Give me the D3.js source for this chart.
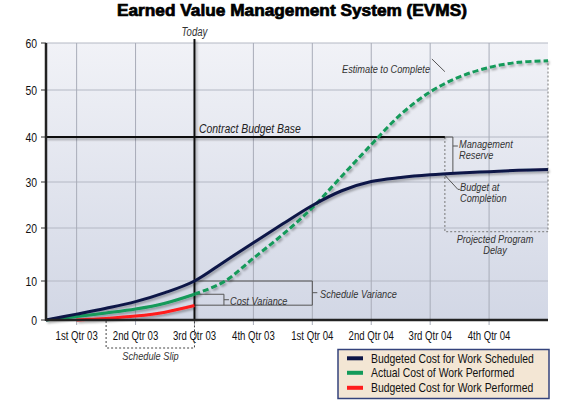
<!DOCTYPE html>
<html><head><meta charset="utf-8">
<script src="https://cdn.jsdelivr.net/npm/d3@7/dist/d3.min.js"></script>
<style>
html,body{margin:0;padding:0;background:#fff;}
svg{display:block;}
text{font-family:"Liberation Sans",Arial,sans-serif;}
</style></head>
<body>
<svg id="c" width="577" height="400"></svg>
<script>
// ---- data ----
const quarterLabels = ["1st Qtr 03","2nd Qtr 03","3rd Qtr 03","4th Qtr 03","1st Qtr 04","2nd Qtr 04","3rd Qtr 04","4th Qtr 04"];
const quarterPos = [1,2,3,4,5,6,7,8];
const yTicks = [0,10,20,30,40,50,60];
const tBCWS = [0.48,1,1.5,2,2.5,3,3.5,4,4.5,5,5.5,6,6.5,7,7.5,8,8.5,9];
const bcws  = [0,1.5,3.0,4.7,7.0,10,13.6,17.2,20.9,24.9,28.1,30.1,31.0,31.6,32.0,32.3,32.6,32.8];
const tACWP = [0.48,1,1.5,2,2.5,3];
const acwp  = [0,0.9,1.8,2.8,4.3,6.6];
const tETC  = [3,3.5,4,4.5,5,5.5,6,6.5,7,7.5,8,8.5,9];
const etc   = [6.6,9.8,14.3,18.8,24.4,31.3,38.3,44.8,49.6,52.8,54.8,55.9,56.2];
const tBCWP = [1,1.5,2,2.5,3];
const bcwp  = [0,0.4,1.0,2.0,3.7];
const seriesNames = ["Budgeted Cost for Work Scheduled","Actual Cost of Work Performed","Budgeted Cost for Work Performed"];
const seriesColors = ["#0c1547","#139a5a","#ff1c1c"];
const todayT = 3, contractBudgetBase = 40, cbbEndT = 7.25, slipStartT = 1.5, schedVarEndT = 5, costVarEndT = 3.5;

// ---- layout ----
const svg = d3.select("#c");
const x = d3.scaleLinear().domain([0.48, 9]).range([46, 548]);
const y = d3.scaleLinear().domain(yTicks).range([320,281,228,182,137,90,43]);
const NARROW = 0.8;
function narrow(sel){ sel.each(function(){ const w=this.getComputedTextLength(); this.setAttribute("textLength",(w*NARROW).toFixed(1)); this.setAttribute("lengthAdjust","spacingAndGlyphs"); }); return sel; }

const defs = svg.append("defs");
const grad = defs.append("linearGradient").attr("id","bg").attr("x1",0).attr("y1",0).attr("x2",0).attr("y2",1);
grad.append("stop").attr("offset","0%").attr("stop-color","#f1f2f7");
grad.append("stop").attr("offset","100%").attr("stop-color","#d2d7e5");
const f = defs.append("filter").attr("id","sh").attr("filterUnits","userSpaceOnUse").attr("x",0).attr("y",0).attr("width",577).attr("height",400);
f.append("feDropShadow").attr("dx",1.5).attr("dy",2).attr("stdDeviation",1.3).attr("flood-color","#000").attr("flood-opacity",0.3);

// plot background
svg.append("rect").attr("x",x(0.48)).attr("y",y(60)).attr("width",x(9)-x(0.48)).attr("height",y(0)-y(60)).attr("fill","url(#bg)");

// grid
svg.append("g").selectAll("line").data(yTicks.filter(d=>d>0)).join("line")
  .attr("x1",x(0.48)).attr("x2",x(9)).attr("y1",d=>y(d)).attr("y2",d=>y(d))
  .attr("stroke","#b4b8c4").attr("stroke-width",1);
svg.append("g").selectAll("line").data(quarterPos).join("line")
  .attr("x1",d=>x(d)).attr("x2",d=>x(d)).attr("y1",y(60)).attr("y2",y(0)+5)
  .attr("stroke","#a8acb8").attr("stroke-width",1);

// title
svg.append("text").attr("x",292).attr("y",16).attr("text-anchor","middle")
  .attr("font-weight","bold").attr("font-size",16)
  .attr("stroke","#000").attr("stroke-width",0.7)
  .attr("textLength",350).attr("lengthAdjust","spacingAndGlyphs")
  .text("Earned Value Management System (EVMS)");

// y labels
narrow(svg.append("g").selectAll("text").data(yTicks).join("text")
  .attr("x",37).attr("y",d=>y(d)).attr("dy","0.36em").attr("text-anchor","end")
  .attr("font-size",13).attr("fill","#111").text(d=>d));
svg.append("g").selectAll("line").data(yTicks).join("line")
  .attr("x1",41).attr("x2",46).attr("y1",d=>y(d)).attr("y2",d=>y(d)).attr("stroke","#333");
// x labels
narrow(svg.append("g").selectAll("text").data(quarterPos).join("text")
  .attr("x",d=>x(d)).attr("y",340).attr("text-anchor","middle")
  .attr("font-size",12).attr("fill","#111").text((d,i)=>quarterLabels[i]));

// annotation helpers
const ann = svg.append("g").attr("fill","none").attr("stroke","#555").attr("stroke-width",1);
function label(tx,ty,txt,anchor,size){
  narrow(svg.append("text").attr("x",tx).attr("y",ty).attr("text-anchor",anchor||"start")
    .attr("font-size",size||11.5).attr("font-style","italic").attr("fill","#333").text(txt));
}
// Projected program delay box (dotted)
ann.append("path").attr("d",`M${x(cbbEndT)},${y(40)}V${y(19.3)}H${x(9)}V${y(56.2)}`)
  .attr("stroke","#777").attr("stroke-dasharray","2,2");
label(495,243,"Projected Program","middle");
label(495,253.5,"Delay","middle");
// Management reserve bracket
ann.append("path").attr("d",`M${x(cbbEndT)},${y(40)}H${x(cbbEndT)+8}V${y(31.7)}M${x(cbbEndT)+8},${y(38)}h5`);
label(459,148,"Management");
label(459,158.5,"Reserve");
// Budget at completion leader
ann.append("path").attr("d",`M${x(cbbEndT)},${y(31.5)}L${x(cbbEndT)+13},${y(28.4)}h2`);
label(460,191,"Budget at");
label(460,201.5,"Completion");
// Estimate to complete leader
ann.append("path").attr("d",`M${x(cbbEndT)-13},${y(56.6)}L${x(cbbEndT)},${y(53.9)}`);
label(430,73,"Estimate to Complete","end");
// Schedule variance bracket
ann.append("path").attr("d",`M${x(todayT)},${y(10)}H${x(schedVarEndT)}V${y(3.8)}H${x(todayT)}M${x(schedVarEndT)},${y(7)}h5`);
label(320,297.5,"Schedule Variance");
// Cost variance bracket
ann.append("path").attr("d",`M${x(todayT)},${y(6.6)}H${x(costVarEndT)}V${y(3.8)}M${x(costVarEndT)},${y(5.2)}h5`);
label(230,304.5,"Cost Variance");
// Schedule slip
ann.append("path").attr("d",`M${x(slipStartT)},${y(0)+1}V348H${x(todayT)}V${y(0)+1}`)
  .attr("stroke","#444").attr("stroke-dasharray","2,2");
label(150.5,360,"Schedule Slip","middle");

// Contract budget base & today lines
svg.append("line").attr("x1",x(0.48)).attr("x2",x(cbbEndT)).attr("y1",y(contractBudgetBase)).attr("y2",y(contractBudgetBase))
  .attr("stroke","#111").attr("stroke-width",2).attr("filter","url(#sh)");
svg.append("line").attr("x1",x(todayT)).attr("x2",x(todayT)).attr("y1",39).attr("y2",y(0))
  .attr("stroke","#111").attr("stroke-width",2).attr("filter","url(#sh)");
narrow(svg.append("text").attr("x",x(todayT)).attr("y",36).attr("text-anchor","middle")
  .attr("font-size",12).attr("font-style","italic").attr("fill","#333").text("Today"));
narrow(svg.append("text").attr("x",199).attr("y",133)
  .attr("font-size",13).attr("font-style","italic").attr("fill","#222").text("Contract Budget Base"));

// curves
const line = d3.line().x(d=>x(d[0])).y(d=>y(d[1])).curve(d3.curveCatmullRom.alpha(0.5));
const curves = svg.append("g").attr("fill","none").attr("stroke-linecap","butt").attr("filter","url(#sh)");
curves.append("path").attr("d",line(tETC.map((t,i)=>[t,etc[i]]))).attr("stroke",seriesColors[1]).attr("stroke-width",3).attr("stroke-dasharray","6,3");
curves.append("path").attr("d",line(tACWP.map((t,i)=>[t,acwp[i]]))).attr("stroke",seriesColors[1]).attr("stroke-width",3);
curves.append("path").attr("d",line(tBCWP.map((t,i)=>[t,bcwp[i]]))).attr("stroke",seriesColors[2]).attr("stroke-width",3);
curves.append("path").attr("d",line(tBCWS.map((t,i)=>[t,bcws[i]]))).attr("stroke",seriesColors[0]).attr("stroke-width",3);

// axes
svg.append("line").attr("x1",46).attr("x2",x(9)).attr("y1",y(0)).attr("y2",y(0)).attr("stroke","#222").attr("stroke-width",2.5);
svg.append("line").attr("x1",46).attr("x2",46).attr("y1",y(60)).attr("y2",y(0)+1).attr("stroke","#222").attr("stroke-width",2.5);

// legend
const lg = svg.append("g");
lg.append("rect").attr("x",338).attr("y",349.5).attr("width",211).attr("height",49)
  .attr("fill","#f3e6d4").attr("stroke","#34437c").attr("stroke-width",1.5);
const rows = [358.3,372.8,387.8];
seriesNames.forEach((n,i)=>{
  lg.append("line").attr("x1",347).attr("x2",363).attr("y1",rows[i]).attr("y2",rows[i])
    .attr("stroke",seriesColors[i]).attr("stroke-width",4);
  narrow(lg.append("text").attr("x",371).attr("y",rows[i]).attr("dy","0.36em")
    .attr("font-size",13).attr("fill","#111").text(n));
});
</script>
</body></html>
